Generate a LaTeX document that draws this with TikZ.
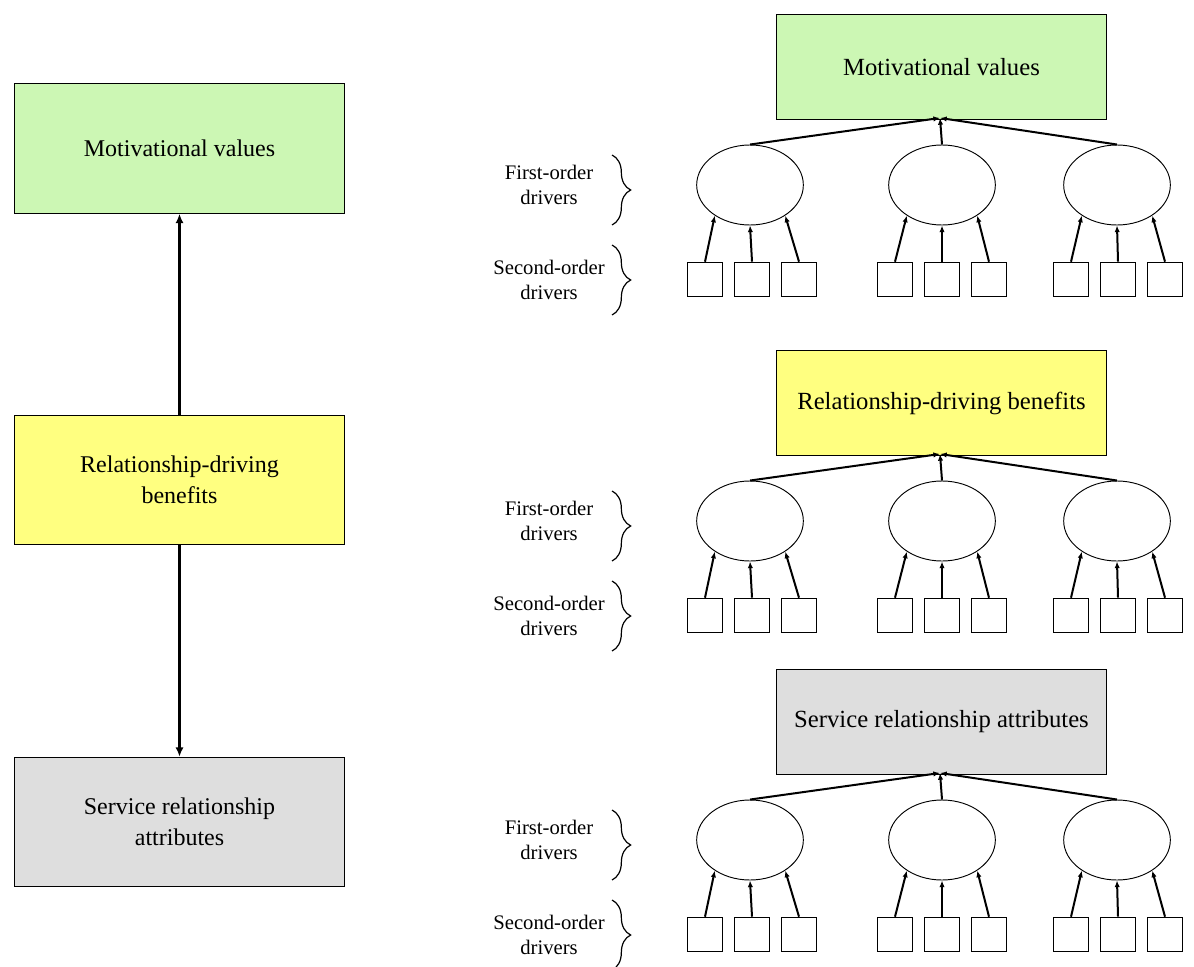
\documentclass[tikz,border=0pt]{standalone}
\usepackage{fontspec}
\setmainfont{Liberation Serif}
\usetikzlibrary{decorations.pathreplacing,arrows.meta,shapes.geometric}
\definecolor{cgreen}{HTML}{CCF7B4}
\definecolor{cyellow}{HTML}{FFFF80}
\definecolor{cgrey}{HTML}{DEDEDE}
\begin{document}
\begin{tikzpicture}[x=0.75pt,y=-0.75pt,
  bigbox/.style={draw,line width=0.8pt,minimum width=248pt,minimum height=97pt,align=center,font=\fontsize{18}{23}\selectfont,inner sep=0pt},
  topbox/.style={draw,line width=0.8pt,minimum width=248pt,minimum height=79pt,align=center,font=\fontsize{18.5}{23}\selectfont,inner sep=0pt},
  ell/.style={draw,ellipse,line width=0.7pt,minimum width=80pt,minimum height=60pt,inner sep=0pt},
  sq/.style={draw,line width=0.7pt,minimum size=26pt,inner sep=0pt},
  arr/.style={line width=1.5pt,-{Latex[length=5pt,width=4pt]}},
  lbl/.style={align=center,font=\fontsize{15.5}{19}\selectfont},
  brace/.style={decorate,decoration={brace,amplitude=14pt,aspect=0.5},line width=0.9pt}]
\useasboundingbox (0,0) rectangle (1194,966);
\node[bigbox,fill=cgreen] (mv) at (179.5,148.5) {Motivational values};
\node[bigbox,fill=cyellow] (rb) at (179.5,480) {Relationship-driving\\benefits};
\node[bigbox,fill=cgrey] (sr) at (179.5,822) {Service relationship\\attributes};
\draw[line width=2pt,-{Latex[length=7pt,width=6pt]}] (rb.north) -- (mv.south);
\draw[line width=2pt,-{Latex[length=7pt,width=6pt]}] (rb.south) -- (sr.north);
\foreach \m/\dy/\txt/\col in {1/0/Motivational values/cgreen,2/336/Relationship-driving benefits/cyellow,3/655/Service relationship attributes/cgrey}{
  \node[topbox,fill=\col] (t\m) at (941.5,67+\dy) {\txt};
  \coordinate (tip\m) at (940,118+\dy);
  \foreach \i/\ex/\sa/\sb/\sc in {1/750/705/752/799,2/942/895/942/989,3/1117/1071/1118/1165}{
    \node[ell] (e\m\i) at (\ex,185+\dy) {};
    \node[sq] (s\m\i a) at (\sa,279.5+\dy) {};
    \node[sq] (s\m\i b) at (\sb,279.5+\dy) {};
    \node[sq] (s\m\i c) at (\sc,279.5+\dy) {};
    \draw[arr] (s\m\i a.north) -- (e\m\i.-139);
    \draw[arr] (s\m\i b.north) -- (e\m\i.south);
    \draw[arr] (s\m\i c.north) -- (e\m\i.-41);
    \draw[arr] (e\m\i.north) -- (tip\m);
  }
  \node[lbl] (f\m) at (549,185+\dy) {First-order\\drivers};
  \node[lbl] (g\m) at (549,280+\dy) {Second-order\\drivers};
  \draw[brace] (612,155+\dy) -- (612,225+\dy);
  \draw[brace] (612,245+\dy) -- (612,315+\dy);
}
\end{tikzpicture}
\end{document}
